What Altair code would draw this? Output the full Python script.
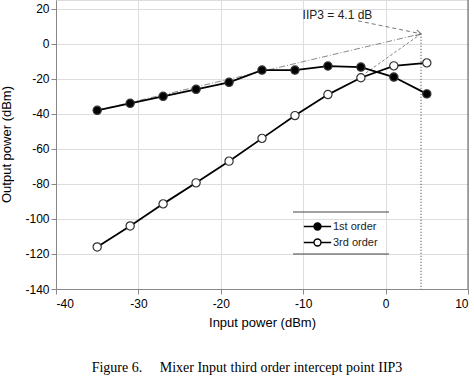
import altair as alt
import pandas as pd

# ---- data ----
input_power = [-35, -31, -27, -23, -19, -15, -11, -7, -3, 1, 5]
first_order = [-38, -34, -30, -26, -22, -15, -15, -12.7, -13.3, -19, -28.6]
third_order = [-116, -104, -91.4, -79.4, -67, -54, -41, -29, -19.4, -12.6, -10.9]
series_names = ["1st order", "3rd order"]

iip3_x = 4.3
iip3_y = 5.7
ext1_x = [-35, iip3_x]
ext1_y = [-38, iip3_y]
ext3_x = [-3.4, iip3_x]
ext3_y = [-20, iip3_y]
arrow_x = [-3.35, iip3_x]
arrow_y = [13.1, iip3_y]
label_text = "IIP3 = 4.1 dB"
label_x = -5.84
label_y = 16.6
caption = "Figure 6.\u00a0\u00a0\u00a0\u00a0 Mixer Input third order intercept point IIP3"

x_ticks = [-40, -30, -20, -10, 0, 10]
y_ticks = [-140, -120, -100, -80, -60, -40, -20, 0, 20]

rows = []
for xv, a, b in zip(input_power, first_order, third_order):
    rows.append({"x": xv, "y": a, "series": series_names[0]})
    rows.append({"x": xv, "y": b, "series": series_names[1]})
df = pd.DataFrame(rows)

xs = alt.Scale(domain=[-40, 10], nice=False, zero=False)
ys = alt.Scale(domain=[-140, 25], nice=False, zero=False)

X = alt.X("x:Q", scale=xs, axis=alt.Axis(values=x_ticks, title="Input power (dBm)",
                                          labelFontSize=12, titleFontSize=13,
                                          titleFontWeight="normal", labelPadding=4,
                                          titlePadding=7, labelOverlap=False,
                                          labelExpr="toString(datum.value)"))
Y = alt.Y("y:Q", scale=ys, axis=alt.Axis(values=y_ticks, title="Output power (dBm)",
                                          labelFontSize=12, titleFontSize=13,
                                          titleFontWeight="normal", labelPadding=2,
                                          labelOverlap=False,
                                          labelExpr="toString(datum.value)",
                                          titleX=-43, titleY=144))

legend_path = "M-3.9,0L-1,0M1,0L3.9,0M1,0A1,1,0,1,1,-1,0A1,1,0,1,1,1,0Z"

lines = alt.Chart(df).mark_line(color="black", strokeWidth=1.8).encode(
    x=X, y=Y, detail="series:N",
)

points = alt.Chart(df).mark_point(shape="circle", filled=True, opacity=1, stroke="#333",
                                  strokeWidth=1.2, size=68).encode(
    x=X, y=Y,
    fill=alt.Fill("series:N", scale=alt.Scale(domain=series_names, range=["black", "white"]),
                  legend=alt.Legend(title=None, orient="none", legendX=256, legendY=221,
                                    symbolType=legend_path, symbolSize=49,
                                    symbolStrokeColor="black", symbolStrokeWidth=1.4,
                                    labelFontSize=11, labelOffset=10, rowPadding=3,
                                    padding=0, labelColor="#222", labelFont="Liberation Sans")),
)

ext1 = alt.Chart(pd.DataFrame({"x": ext1_x, "y": ext1_y})).mark_line(
    color="#888", strokeWidth=1, strokeDash=[6, 2, 1, 2]).encode(x=X, y=Y)
ext3 = alt.Chart(pd.DataFrame({"x": ext3_x, "y": ext3_y})).mark_line(
    color="#888", strokeWidth=1, strokeDash=[3, 2]).encode(x=X, y=Y)
arrow = alt.Chart(pd.DataFrame({"x": arrow_x, "y": arrow_y})).mark_line(
    color="#777", strokeWidth=1, strokeDash=[4, 3]).encode(x=X, y=Y)
arrow_head = alt.Chart(pd.DataFrame({"x": [iip3_x], "y": [iip3_y]})).mark_point(
    shape="M-1,-0.6L0,0L-1,0.6", size=100, angle=12, stroke="#777", strokeWidth=1, filled=False, opacity=1
).encode(x=X, y=Y)

vline = alt.Chart(pd.DataFrame({"x": [iip3_x], "y": [iip3_y], "y2": [-140]})).mark_rule(
    color="#333", strokeWidth=1, strokeDash=[1, 2]).encode(x=X, y=Y, y2="y2:Q")

label = alt.Chart(pd.DataFrame({"x": [label_x], "y": [label_y], "t": [label_text]})).mark_text(
    fontSize=12, font="Liberation Sans", color="#222").encode(x=X, y=Y, text="t:N")

right_border = alt.Chart(pd.DataFrame({"a": [0]})).mark_rule(color="#555", strokeWidth=1).encode(
    x=alt.value(412), y=alt.value(0), y2=alt.value(289))
leg_top = alt.Chart(pd.DataFrame({"a": [0]})).mark_rule(color="#444", strokeWidth=1).encode(
    x=alt.value(237), x2=alt.value(333), y=alt.value(212))
leg_bot = alt.Chart(pd.DataFrame({"a": [0]})).mark_rule(color="#444", strokeWidth=1).encode(
    x=alt.value(237), x2=alt.value(333), y=alt.value(254))

cap = alt.Chart(pd.DataFrame({"t": [caption]})).mark_text(
    font="Liberation Serif", fontSize=14, color="black").encode(
    x=alt.value(191), y=alt.value(368), text="t:N")

chart = alt.layer(
    vline, ext1, ext3, arrow, arrow_head, lines, points, label,
    right_border, leg_top, leg_bot, cap
).properties(
    width=412, height=289,
    padding={"left": 56, "top": 0, "right": 6, "bottom": 88},
    autosize="none",
).configure_view(stroke=None).configure_axis(
    grid=False, domainColor="#555", tickColor="#555", tickSize=4,
    labelColor="#222", titleColor="#222", labelFont="Liberation Sans", titleFont="Liberation Sans",
).configure(background="white")

chart.save("out.html", embed_options={"renderer": "svg", "actions": False})
